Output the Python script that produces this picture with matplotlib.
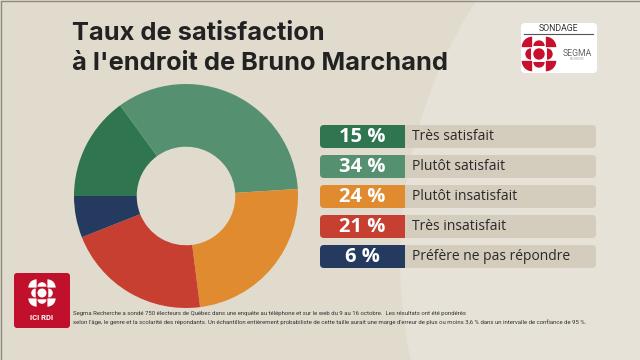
import numpy as np
import matplotlib.pyplot as plt
from matplotlib.patches import FancyBboxPatch, Rectangle, Circle, Wedge

# Data
categories = ['Très satisfait', 'Plutôt satisfait', 'Plutôt insatisfait',
              'Très insatisfait', 'Préfère ne pas répondre']
values = [15, 34, 24, 21, 6]
colors = ['#2e7550', '#559071', '#e08b30', '#c63f30', '#243a5e']
title_lines = ['Taux de satisfaction', "à l'endroit de Bruno Marchand"]
note = ("Segma Recherche a sondé 750 électeurs de Québec dans une enquête au téléphone et sur le web du 9 au 16 octobre.  "
        "Les résultats ont été pondérés\n"
        "selon l'âge, le genre et la scolarité des répondants. Un échantillon entièrement probabiliste de cette taille "
        "aurait une marge d'erreur de plus ou moins 3,6 % dans un intervalle de confiance de 95 %.")

BG = '#e1dbce'
W, H = 640, 360

fig = plt.figure(figsize=(6.4, 3.6), dpi=100, facecolor=BG)

# overlay axes in pixel coordinates (y down)
ov = fig.add_axes([0, 0, 1, 1])
ov.set_xlim(0, W)
ov.set_ylim(H, 0)
ov.axis('off')
ov.set_facecolor(BG)

# lighter curved area in the background
ov.add_patch(Circle((880, 260), 480, color='#e7e2d7', zorder=0, lw=0))
# thin frame on top / left edges
ov.plot([0.5, 0.5, W], [H, 0.5, 0.5], color='#8f8a7f', lw=1, zorder=1)


def gem(ax, cx, cy, s, color):
    # rough CBC gem
    ax.add_patch(Circle((cx, cy), 0.3 * s, color=color, lw=0, zorder=5))
    for a in [0, 90, 180, 270]:
        r = np.deg2rad(a)
        c = (cx + 0.42 * s * np.cos(r), cy - 0.42 * s * np.sin(r))
        ax.add_patch(Wedge(c, 0.3 * s, -a - 90, -a + 90, color=color, lw=0, zorder=5))
    for a in [45, 135, 225, 315]:
        r = np.deg2rad(a)
        c = (cx + 0.36 * s * np.sqrt(2) * np.cos(r), cy - 0.36 * s * np.sqrt(2) * np.sin(r))
        ax.add_patch(Wedge(c, 0.55 * s, -a - 45, -a + 45, color=color, lw=0, zorder=5))


# title
for i, line in enumerate(title_lines):
    ov.text(72, 33 + i * 31, line, fontsize=18.3, fontweight='bold', family='Inter',
            color='#222222', va='center', ha='left')

# SONDAGE badge
ov.add_patch(FancyBboxPatch((521, 23), 76, 50, boxstyle='round,pad=0,rounding_size=4',
                            fc='white', ec='none', zorder=3))
ov.text(559, 28.5, 'SONDAGE', fontsize=6.3, family='Roboto', color='#333333',
        ha='center', va='center', zorder=4)
ov.plot([524, 593], [34, 34], color='#555555', lw=0.8, zorder=4)
gem(ov, 539, 54, 19, '#c8102e')
ov.text(577, 53, 'SEGMA', fontsize=6.3, family='Roboto', color='#666666',
        ha='center', va='center', zorder=4)
ov.text(577, 58.5, 'RECHERCHE', fontsize=1.8, family='Roboto', color='#999999',
        ha='center', va='center', zorder=4)

# donut
cx, cy, R = 186, 196, 112
dax = fig.add_axes([(cx - R) / W, (H - cy - R) / H, 2 * R / W, 2 * R / H])
dax.pie(values, colors=colors, startangle=180, counterclock=False, radius=1,
        wedgeprops=dict(width=0.56, linewidth=0))
dax.set_xlim(-1, 1)
dax.set_ylim(-1, 1)
dax.set_aspect('equal')
dax.axis('off')

# legend rows
x0, x1, xb = 320, 596, 405
y0, step, h = 136.5, 30, 23
for i, (cat, v, c) in enumerate(zip(categories, values, colors)):
    yc = y0 + i * step
    ov.add_patch(FancyBboxPatch((x0, yc - h / 2), x1 - x0, h,
                                boxstyle='round,pad=0,rounding_size=4',
                                fc='#d4cdbe', ec='none', zorder=2))
    ov.add_patch(FancyBboxPatch((x0, yc - h / 2), xb - x0, h,
                                boxstyle='round,pad=0,rounding_size=4',
                                fc=c, ec='none', zorder=3))
    ov.add_patch(Rectangle((xb - 8, yc - h / 2), 8, h, fc=c, ec='none', zorder=3))
    ov.text((x0 + xb) / 2, yc + 0.5, f'{v} %', fontsize=14.5, fontweight='bold',
            family='Open Sans', color='white', ha='center', va='center', zorder=4)
    ov.text(412, yc, cat, fontsize=10, family='Open Sans', color='#2a2a2a',
            ha='left', va='center', zorder=4)

# ICI RDI logo
ov.add_patch(FancyBboxPatch((14, 273), 56, 55, boxstyle='round,pad=0,rounding_size=3',
                            fc='#c0102b', ec='none', zorder=3))
gem(ov, 42, 293, 15, 'white')
ov.text(42, 318, 'ICI RDI', fontsize=5.5, fontweight='bold', family='Roboto',
        color='white', ha='center', va='center', zorder=6)

# footnote
ov.text(73, 318, note, fontsize=4.35, family='Roboto', color='#333333',
        ha='left', va='center', linespacing=1.6, zorder=4)

fig.savefig('out.png', dpi=100, facecolor=BG)
